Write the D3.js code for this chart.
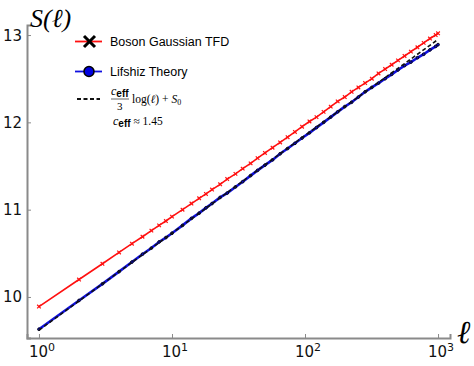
<!DOCTYPE html>
<html><head><meta charset="utf-8">
<script src="https://cdn.jsdelivr.net/npm/d3@7"></script>
<style>body{margin:0;background:#fff}svg{display:block}</style>
</head><body>
<svg id="c" width="474" height="366"></svg>
<script>
const ells = [1,2,3,4,5,6,7,8,9,10,12,14,16,18,20,23,26,30,34,39,44,50,57,65,74,84,95,108,122,138,156,176,199,224,252,283,318,357,400,448,500,560,625,700,780,870,960,1000];
const bosonTFD = [9.89,10.20,10.38,10.51,10.61,10.69,10.76,10.82,10.87,10.92,11.00,11.07,11.13,11.18,11.23,11.29,11.35,11.41,11.47,11.53,11.59,11.65,11.71,11.77,11.83,11.89,11.95,12.01,12.06,12.12,12.18,12.24,12.29,12.35,12.40,12.45,12.50,12.56,12.61,12.66,12.71,12.76,12.81,12.86,12.91,12.96,13.00,13.02];
const lifshiz = [9.63,9.96,10.15,10.29,10.40,10.49,10.56,10.63,10.68,10.73,10.82,10.90,10.96,11.02,11.07,11.14,11.19,11.26,11.32,11.39,11.45,11.51,11.57,11.64,11.70,11.76,11.82,11.88,11.94,12.00,12.06,12.12,12.18,12.23,12.29,12.35,12.40,12.45,12.50,12.55,12.60,12.65,12.69,12.74,12.78,12.83,12.87,12.89];
const fitEll = [1,10,100,1000];
const fitS = [9.62,10.73,11.85,12.95];
const yTicks = [10,11,12,13];
const xTicks = [1,10,100,1000];
const xTickExp = ["0","1","2","3"];

const svg = d3.select("#c");
const x = d3.scaleLog().domain([0.813,1230]).range([27,450]);
const y = d3.scaleLinear().domain([9.53,13.115]).range([338,25]);

const axisCol = "#8a8a8a";
const gx = svg.append("g").attr("transform","translate(0,338)")
  .call(d3.axisBottom(x).tickValues(xTicks).tickSize(-4).tickFormat(""));
const gy = svg.append("g").attr("transform","translate(27,0)")
  .call(d3.axisLeft(y).tickValues(yTicks).tickSize(-4).tickFormat(""));
[gx,gy].forEach(g=>{
  g.select(".domain").attr("stroke",axisCol).attr("stroke-width",2);
  g.selectAll(".tick line").attr("stroke",axisCol).attr("stroke-width",1);
});

svg.append("g").selectAll("text").data(yTicks).join("text")
  .attr("x",22).attr("y",d=>y(d)+5.5).attr("text-anchor","end")
  .attr("font-family","DejaVu Sans").attr("font-size",15).attr("fill","#111").text(d=>d);
const xl = svg.append("g").selectAll("text").data(xTicks).join("text")
  .attr("x",d=>x(d)+3).attr("y",357).attr("text-anchor","middle")
  .attr("font-family","DejaVu Sans").attr("font-size",15).attr("fill","#111");
xl.append("tspan").text("10");
xl.append("tspan").attr("dy",-6).attr("font-size",11).text((d,i)=>xTickExp[i]);

svg.append("text").attr("x",30).attr("y",27).attr("font-family","Liberation Serif")
  .attr("font-style","italic").attr("font-size",26).text("S(ℓ)");
svg.append("text").attr("x",457).attr("y",343).attr("font-family","Liberation Serif")
  .attr("font-style","italic").attr("font-size",32).text("ℓ");

const line = d3.line().x(d=>x(d[0])).y(d=>y(d[1]));
const redData = ells.map((l,i)=>[l,bosonTFD[i]]);
const blueData = ells.map((l,i)=>[l,lifshiz[i]]);
const fitData = fitEll.map((l,i)=>[l,fitS[i]]);

svg.append("path").datum(redData).attr("d",line).attr("fill","none")
  .attr("stroke","#ff1010").attr("stroke-width",1.6);
svg.append("g").selectAll("path").data(redData).join("path")
  .attr("transform",d=>`translate(${x(d[0])},${y(d[1])})`)
  .attr("d","M-1.8,-1.8L1.8,1.8M-1.8,1.8L1.8,-1.8").attr("stroke","#ff1010").attr("stroke-width",1.2);

svg.append("path").datum(blueData).attr("d",line).attr("fill","none")
  .attr("stroke","#1010e0").attr("stroke-width",2.6);
svg.append("g").selectAll("circle").data(blueData).join("circle")
  .attr("cx",d=>x(d[0])).attr("cy",d=>y(d[1])).attr("r",1.4)
  .attr("fill","#1010c0").attr("stroke","#000").attr("stroke-width",0.8);

svg.append("path").datum(fitData).attr("d",line).attr("fill","none")
  .attr("stroke","#111").attr("stroke-width",1.6).attr("stroke-dasharray","4,2.5");

const lg = svg.append("g");
lg.append("line").attr("x1",75).attr("x2",102).attr("y1",41.5).attr("y2",41.5).attr("stroke","#ff1010").attr("stroke-width",1.8);
lg.append("path").attr("d","M84,36L95,47M84,47L95,36").attr("stroke","#000").attr("stroke-width",3);
lg.append("text").attr("x",110).attr("y",46).attr("font-family","Liberation Sans").attr("font-size",12.5).text("Boson Gaussian TFD");
lg.append("line").attr("x1",75).attr("x2",102).attr("y1",71.5).attr("y2",71.5).attr("stroke","#1010e0").attr("stroke-width",1.8);
lg.append("circle").attr("cx",89).attr("cy",71.5).attr("r",5).attr("fill","#0000e0").attr("stroke","#000").attr("stroke-width",1.5);
lg.append("text").attr("x",110).attr("y",76).attr("font-family","Liberation Sans").attr("font-size",12.5).text("Lifshiz Theory");
lg.append("line").attr("x1",77).attr("x2",100).attr("y1",99).attr("y2",99).attr("stroke","#111").attr("stroke-width",1.8).attr("stroke-dasharray","4,2.5");
const f1 = lg.append("text").attr("x",111).attr("y",95).attr("font-size",12);
f1.append("tspan").attr("font-family","Liberation Serif").attr("font-style","italic").text("c");
f1.append("tspan").attr("font-family","Liberation Sans").attr("font-weight","bold").attr("font-size",10).attr("dy",2).text("eff");
lg.append("line").attr("x1",111).attr("x2",129).attr("y1",99).attr("y2",99).attr("stroke","#222").attr("stroke-width",0.7);
lg.append("text").attr("x",117).attr("y",110).attr("font-family","Liberation Serif").attr("font-size",11).text("3");
const f2 = lg.append("text").attr("x",132).attr("y",103).attr("font-family","Liberation Serif").attr("font-size",11.5);
f2.append("tspan").text("log(");
f2.append("tspan").attr("font-style","italic").text("ℓ");
f2.append("tspan").text(") + ");
f2.append("tspan").attr("font-style","italic").text("S");
f2.append("tspan").attr("font-size",8).attr("dy",2).text("0");
const f3 = lg.append("text").attr("x",113).attr("y",125).attr("font-size",12);
f3.append("tspan").attr("font-family","Liberation Serif").attr("font-style","italic").text("c");
f3.append("tspan").attr("font-family","Liberation Sans").attr("font-weight","bold").attr("font-size",10).attr("dy",2).text("eff");
f3.append("tspan").attr("font-family","Liberation Serif").attr("font-size",11.5).attr("dy",-2).text(" ≈ 1.45");
</script>
</body></html>
